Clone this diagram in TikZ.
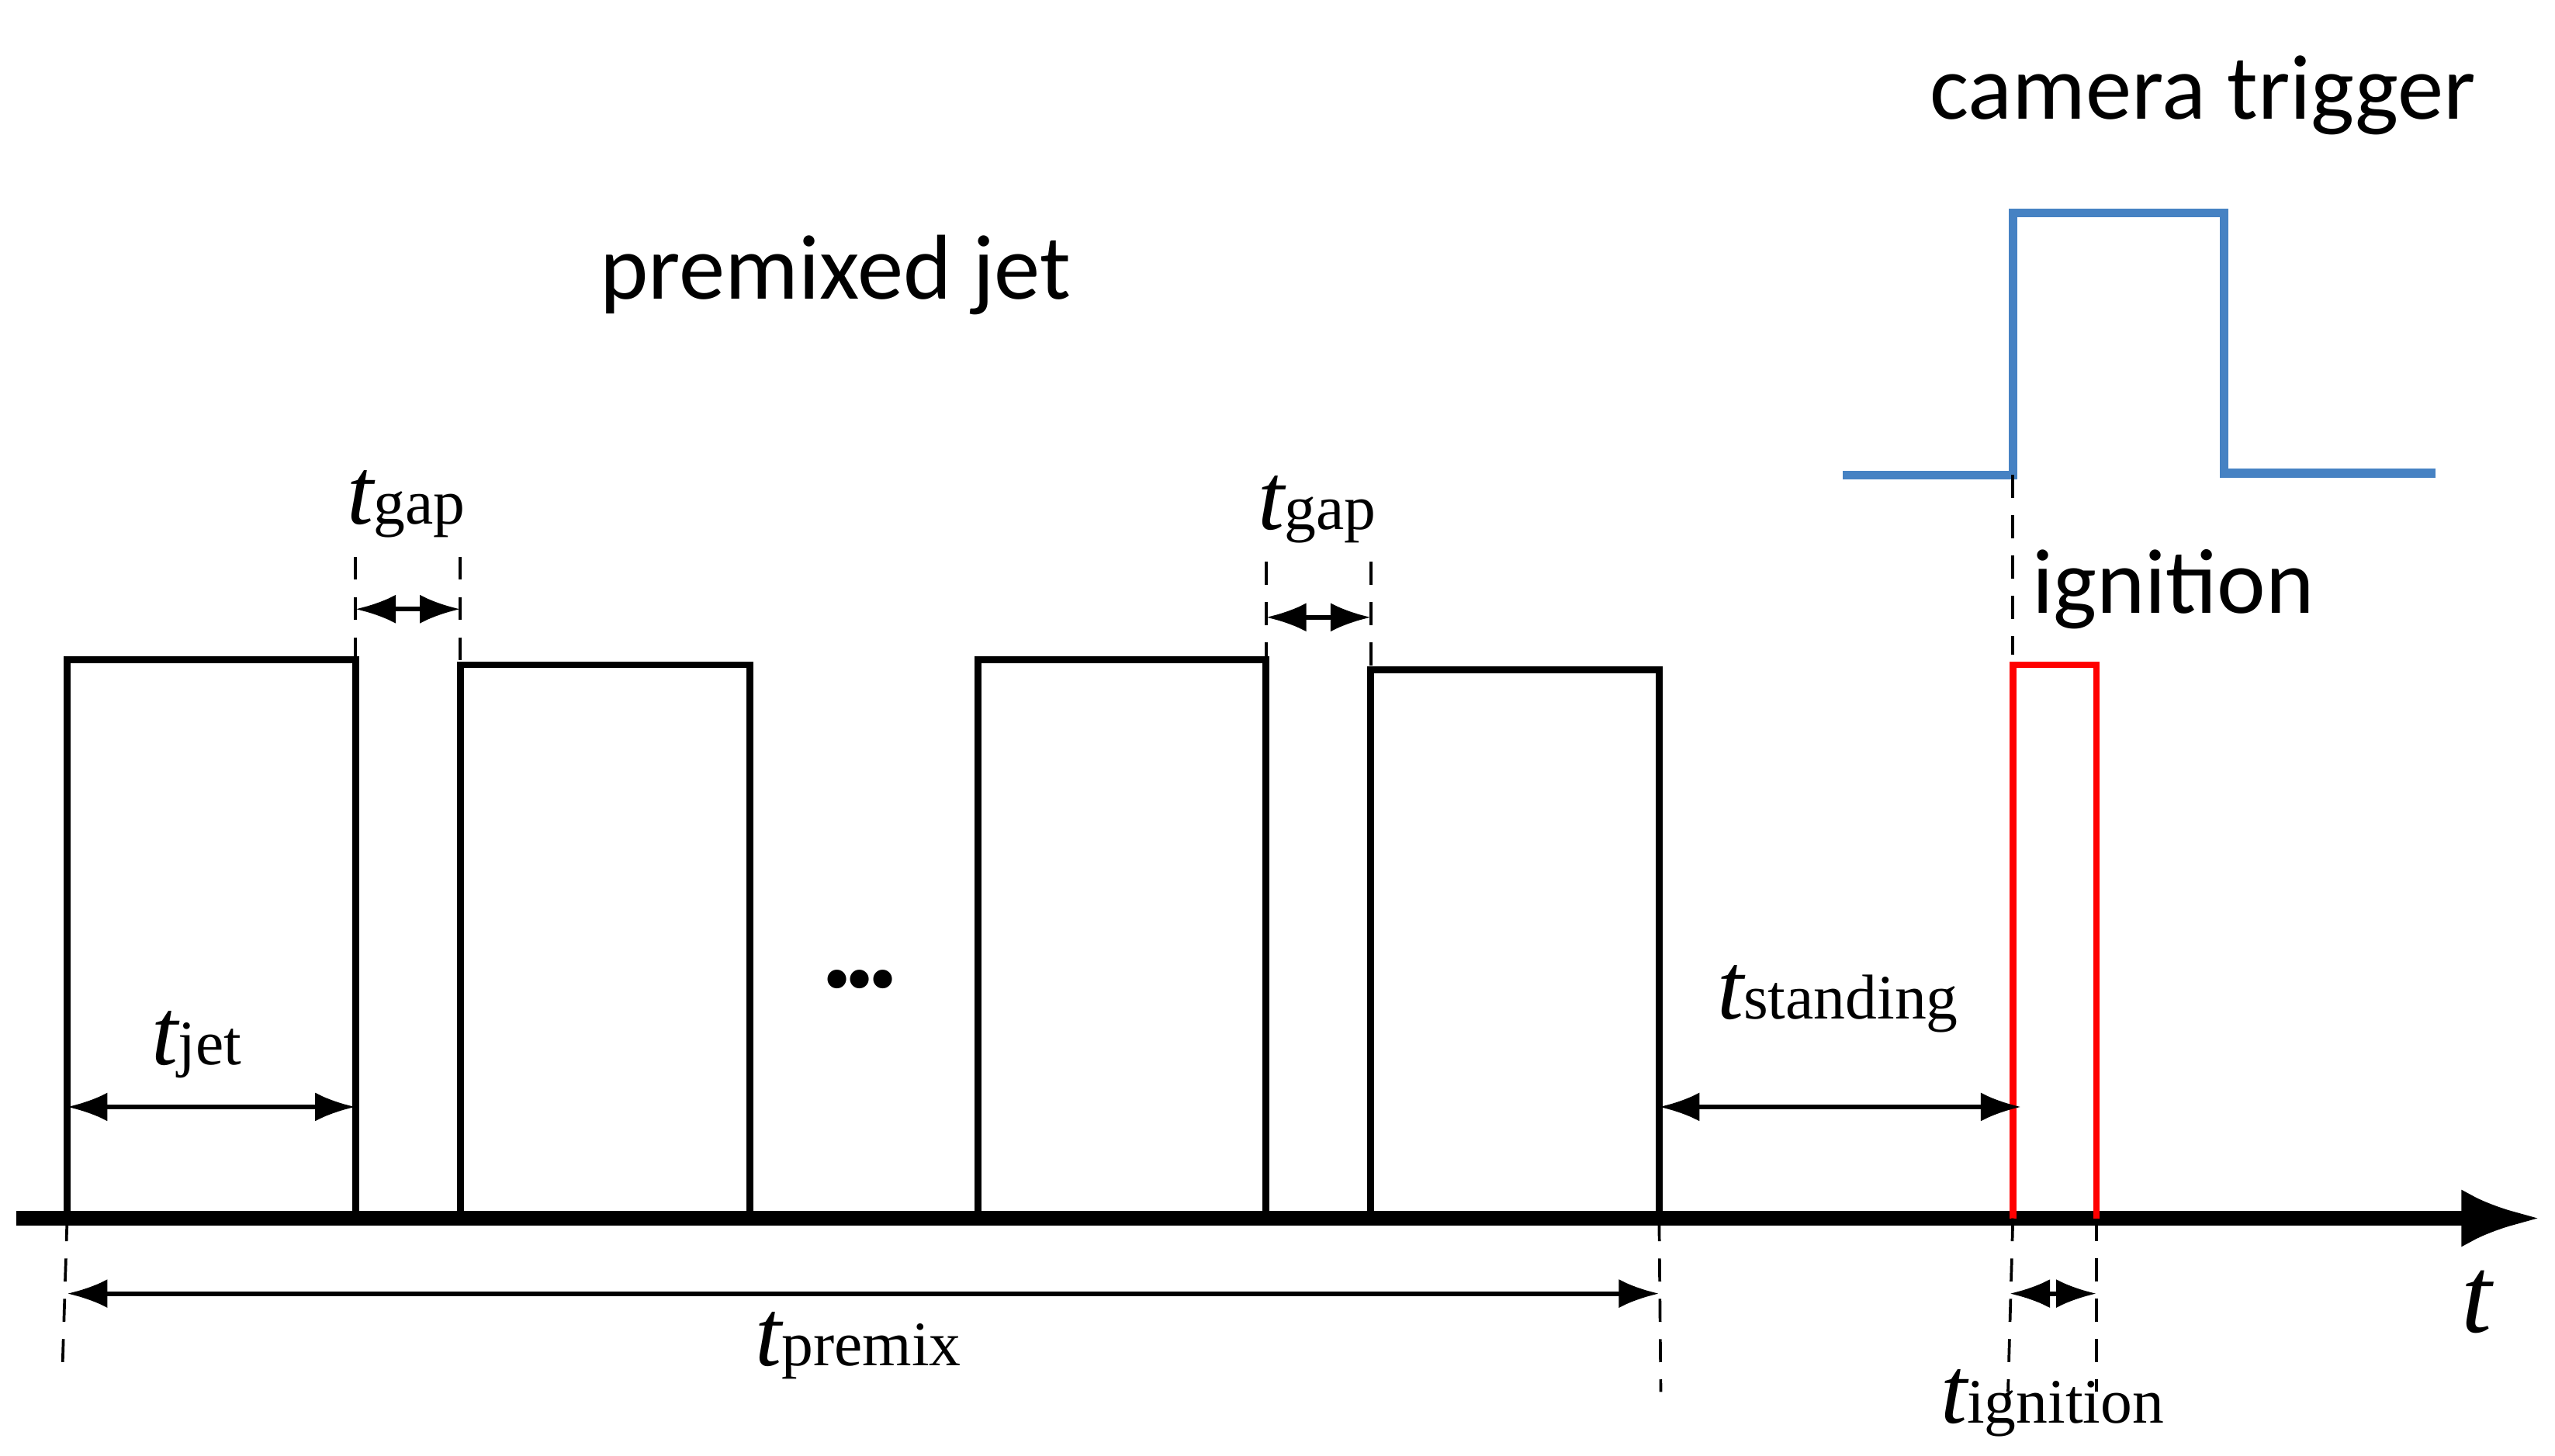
\documentclass[tikz,border=0pt]{standalone}
\usepackage{fontspec}
\setmainfont{Liberation Serif}
\newfontfamily\lab{Carlito}
\usetikzlibrary{arrows.meta}
\newcommand{\tv}[1]{{\fontsize{16.5}{20}\selectfont\itshape t}{\fontsize{11}{14}\selectfont #1}}
\begin{document}
\begin{tikzpicture}[
  box/.style={line width=1.2pt},
  dim/.style={line width=0.8pt,{Latex[length=7pt,width=5pt]}-{Latex[length=7pt,width=5pt]}},
  dsh/.style={line width=0.5pt,dash pattern=on 4pt off 3pt},
  big/.style={font=\lab\fontsize{16}{19}\selectfont},
  tl/.style={inner sep=0pt}]
\useasboundingbox (0,0) rectangle (15.6,8.89);
% axis
\coordinate (ax0) at (0.10,1.45); \coordinate (ax1) at (15.52,1.45);
\draw[line width=2.6pt,-{Latex[length=14pt,width=10pt]}] (ax0) -- (ax1);
\node[tl] (tax) at (15.12,0.94) {\fontsize{19}{24}\selectfont\itshape t};
% boxes
\draw[box] (0.41,1.45) coordinate (b1l) -- (0.41,4.86) -- (2.17,4.86) -- (2.17,1.45) coordinate (b1r);
\draw[box] (2.81,1.45) coordinate (b2l) -- (2.81,4.83) -- (4.58,4.83) -- (4.58,1.45);
\draw[box] (5.97,1.45) -- (5.97,4.86) -- (7.73,4.86) coordinate (b3t) -- (7.73,1.45);
\draw[box] (8.37,1.45) -- (8.37,4.80) coordinate (b4t) -- (10.13,4.80) -- (10.13,1.45) coordinate (b4r);
\draw[box,red] (12.29,1.45) coordinate (rl) -- (12.29,4.83) -- (12.80,4.83) -- (12.80,1.45) coordinate (rr);
% camera trigger
\draw[line width=1.5pt,color={rgb,255:red,70;green,130;blue,195}] (11.25,5.99) -- (12.29,5.99) coordinate (ct) -- (12.29,7.59) -- (13.58,7.59) -- (13.58,6.00) -- (14.87,6.00);
\draw[dsh] (ct) -- (12.29,4.89);
% texts
\node[big] (cam) at (13.45,8.31) {camera trigger};
\node[big] (pj) at (5.10,7.21) {premixed jet};
\node[big,anchor=west,inner sep=0pt] (ign) at (12.40,5.29) {ignition};
\node (dots) at (5.25,2.91) {\fontsize{20}{24}\selectfont\bfseries .\kern-1pt.\kern-1pt.};
% gap 1
\coordinate (g1a) at (2.17,5.17); \coordinate (g1b) at (2.81,5.17);
\draw[dsh] (2.17,5.49) -- (2.17,4.86); \draw[dsh] (2.81,5.49) -- (2.81,4.83);
\draw[dim] (g1a) -- (g1b);
\node[tl] (tg1) at (2.48,5.81) {\tv{gap}};
% gap 2
\coordinate (g2a) at (7.73,5.12); \coordinate (g2b) at (8.37,5.12);
\draw[dsh] (7.73,5.46) -- (b3t); \draw[dsh] (8.37,5.46) -- (b4t);
\draw[dim] (g2a) -- (g2b);
\node[tl] (tg2) at (8.04,5.78) {\tv{gap}};
% jet
\coordinate (ja) at (0.41,2.13); \coordinate (jb) at (2.17,2.13);
\draw[dim] (ja) -- (jb);
\node[tl] (tj) at (1.20,2.51) {\tv{jet}};
% standing
\coordinate (sa) at (10.13,2.13); \coordinate (sb) at (12.34,2.13);
\draw[dim] (sa) -- (sb);
\node[tl] (ts) at (11.22,2.79) {\tv{standing}};
% premix
\draw[dsh] (b1l) -- (0.38,0.49); \draw[dsh] (b4r) -- (10.14,0.39);
\coordinate (pa) at (0.41,0.99); \coordinate (pb) at (10.13,0.99);
\draw[dim] (pa) -- (pb);
\node[tl] (tp) at (5.24,0.67) {\tv{premix}};
% ignition
\draw[dsh] (rl) -- (12.26,0.39); \draw[dsh] (rr) -- (12.80,0.39);
\coordinate (ia) at (12.27,0.99); \coordinate (ib) at (12.80,0.99);
\draw[dim] (ia) -- (ib);
\node[tl] (ti) at (12.53,0.32) {\tv{ignition}};
\end{tikzpicture}
\end{document}
